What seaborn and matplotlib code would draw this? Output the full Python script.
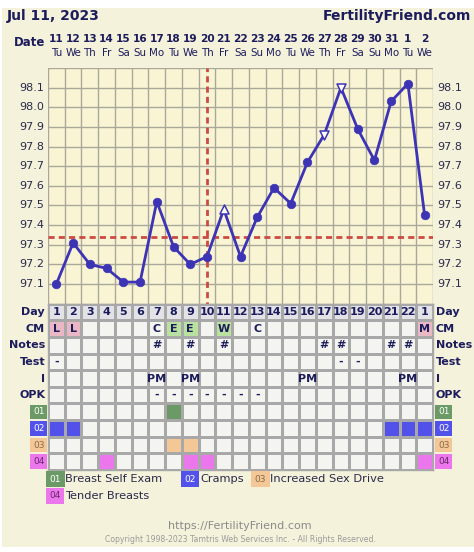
import numpy as np
import pandas as pd
import matplotlib
matplotlib.use("Agg")
import matplotlib.pyplot as plt
import matplotlib.transforms as mtrans
from matplotlib.colors import ListedColormap
from matplotlib.patches import Rectangle
import seaborn as sns

# ---------------- data ----------------
dates = ["11", "12", "13", "14", "15", "16", "17", "18", "19", "20", "21", "22",
         "23", "24", "25", "26", "27", "28", "29", "30", "31", "1", "2"]
weekdays = ["Tu", "We", "Th", "Fr", "Sa", "Su", "Mo", "Tu", "We", "Th", "Fr", "Sa",
            "Su", "Mo", "Tu", "We", "Th", "Fr", "Sa", "Su", "Mo", "Tu", "We"]
cycle_days = ["1", "2", "3", "4", "5", "6", "7", "8", "9", "10", "11", "12",
              "13", "14", "15", "16", "17", "18", "19", "20", "21", "22", "1"]
temps = [97.10, 97.31, 97.20, 97.18, 97.11, 97.11, 97.52, 97.29, 97.20, 97.24,
         97.48, 97.24, 97.44, 97.59, 97.51, 97.72, 97.86, 98.10, 97.89, 97.73,
         98.03, 98.12, 97.45]
# marker kind: 'o' normal, '^' open up, 'v' open down
temp_marker = ["o"] * 10 + ["^"] + ["o"] * 5 + ["v", "v"] + ["o"] * 5
coverline = 97.34
ovulation_day_index = 9          # cycle day 10
temp_ticks = [97.1, 97.2, 97.3, 97.4, 97.5, 97.6, 97.7, 97.8, 97.9, 98.0, 98.1]

cm_values = {0: "L", 1: "L", 6: "C", 7: "E", 8: "E", 10: "W", 12: "C", 22: "M"}
notes_days = [6, 8, 10, 16, 17, 20, 21]
test_days = [0, 17, 18]
intercourse_days = [6, 8, 15, 21]
opk_days = [6, 7, 8, 9, 10, 11, 12]
symptom_codes = ["01", "02", "03", "04"]
symptom_names = ["Breast Self Exam", "Cramps", "Increased Sex Drive", "Tender Breasts"]
symptom_days = {"01": [7], "02": [0, 1, 20, 21, 22], "03": [7, 8], "04": [3, 8, 9, 22]}
row_labels = ["Day", "CM", "Notes", "Test", "I", "OPK"]

# ---------------- styling ----------------
NAVY = "#1c1c5c"
LINE = "#3d33b5"
CREAM = "#f5f2dc"
PLOT_BG = "#f8f4d4"
GRID = "#a9a89a"
RED = "#cc4a44"
sym_colors = {"01": "#6b9a67", "02": "#5252ea", "03": "#f3c796", "04": "#ec76ec"}
cm_colors = {"L": "#e9b8c4", "M": "#e9b8c4", "E": "#b9e2a0", "W": "#b9e2a0"}

W, H = 474, 552
sns.set_theme(style="white")
plt.rcParams["font.family"] = ["DejaVu Sans"]

fig = plt.figure(figsize=(W / 100, H / 100), dpi=100)
fig.patch.set_facecolor("white")
fig.patches.append(Rectangle((2 / W, 1 - 547 / H), 1, (547 - 8) / H,
                             transform=fig.transFigure, facecolor=CREAM,
                             edgecolor="none", zorder=-10))

def fx(x):
    return x / W

def fy(y):
    return 1 - y / H

n = len(dates)
gx0, gx1 = 48, 433
gtop, gbot, tbot = 68, 303.7, 470

# ---------------- temperature chart ----------------
ax = fig.add_axes([fx(gx0), fy(gbot), (gx1 - gx0) / W, (gbot - gtop) / H])
ax.set_facecolor(PLOT_BG)
df = pd.DataFrame({"x": np.arange(n), "temp": temps, "mk": temp_marker})
ax.set_xlim(-0.5, n - 0.5)
ax.set_ylim(97.0, 98.2)
for v in np.arange(n + 1) - 0.5:
    ax.axvline(v, color=GRID, lw=1, zorder=1)
for v in np.arange(97.0, 98.21, 0.1):
    ax.axhline(v, color=GRID, lw=1, zorder=1)
ax.axhline(coverline, color=RED, lw=2, ls=(0, (2.2, 1.5)), zorder=2)
ax.plot([ovulation_day_index, ovulation_day_index], [96.98, 98.2], color=RED, lw=2,
        ls=(0, (2.2, 1.5)), zorder=2, clip_on=False)
sns.lineplot(data=df, x="x", y="temp", color=LINE, lw=2, ax=ax, zorder=3)
d_o = df[df.mk == "o"]
sns.scatterplot(data=d_o, x="x", y="temp", color=LINE, s=38, edgecolor=LINE, ax=ax, zorder=4)
for m in ["^", "v"]:
    d_m = df[df.mk == m]
    sns.scatterplot(data=d_m, x="x", y="temp", marker=m, color="white", s=42,
                    edgecolor=LINE, linewidth=1.1, ax=ax, zorder=4)
ax.set_xticks([])
ax.set_yticks([])
ax.set_xlabel("")
ax.set_ylabel("")
for s in ax.spines.values():
    s.set_visible(False)

blend_y = mtrans.blended_transform_factory(fig.transFigure, ax.transData)
for t in temp_ticks:
    fig.text(fx(44), t, f"{t:.1f}", transform=blend_y, ha="right", va="center",
             fontsize=8, color="#2a2a4a")
    fig.text(fx(437), t, f"{t:.1f}", transform=blend_y, ha="left", va="center",
             fontsize=8, color="#2a2a4a")

# ---------------- table (heatmap) ----------------
nrows = len(row_labels) + len(symptom_codes)
codes = np.zeros((nrows, n))
labels = np.full((nrows, n), "", dtype=object)
codes[0, :] = 1
labels[0, :] = cycle_days
code_of = {"L": 2, "M": 2, "E": 3, "W": 3}
for d, v in cm_values.items():
    labels[1, d] = v
    codes[1, d] = code_of.get(v, 0)
for d in notes_days:
    labels[2, d] = "#"
for d in test_days:
    labels[3, d] = "-"
for d in intercourse_days:
    labels[4, d] = "PM"
for d in opk_days:
    labels[5, d] = "-"
for k, sc in enumerate(symptom_codes):
    for d in symptom_days[sc]:
        codes[6 + k, d] = 4 + k
palette = ["#f4f4f0", "#e3e3e7", cm_colors["L"], cm_colors["E"],
           sym_colors["01"], sym_colors["02"], sym_colors["03"], sym_colors["04"]]
tax = fig.add_axes([fx(gx0), fy(tbot), (gx1 - gx0) / W, (tbot - gbot) / H])
sns.heatmap(codes, cmap=ListedColormap(palette), vmin=-0.5, vmax=7.5, cbar=False,
            linewidths=0.8, linecolor="#a8a8a8", annot=labels, fmt="",
            annot_kws={"fontsize": 8, "fontweight": "bold", "color": NAVY},
            ax=tax)
tax.set_xticks([])
tax.set_yticks([])
for s in ["left", "right", "top", "bottom"]:
    tax.spines[s].set_visible(True)
    tax.spines[s].set_color("#a8a8a8")
    tax.spines[s].set_linewidth(1)

blend_t = mtrans.blended_transform_factory(fig.transFigure, tax.transData)
for r, lab in enumerate(row_labels):
    fig.text(fx(45), r + 0.5, lab, transform=blend_t, ha="right", va="center",
             fontsize=8, fontweight="bold", color=NAVY)
    fig.text(fx(436), r + 0.5, lab, transform=blend_t, ha="left", va="center",
             fontsize=8, fontweight="bold", color=NAVY)
for k, sc in enumerate(symptom_codes):
    r = 6 + k + 0.5
    tc = "white" if sc in ("01", "02") else "#8a6a4a" if sc == "03" else "#6a2a6a"
    for xx in (33, 438):
        fig.text(fx(xx), r, sc, transform=blend_t, ha="left", va="center",
                 fontsize=6.5, color=tc,
                 bbox=dict(boxstyle="square,pad=0.3", fc=sym_colors[sc], ec="none"))

# ---------------- header ----------------
blend_x = mtrans.blended_transform_factory(ax.transData, fig.transFigure)
fig.text(fx(7), fy(16), "Jul 11, 2023", ha="left", va="center", fontsize=10,
         fontweight="bold", color=NAVY)
fig.text(fx(471), fy(16), "FertilityFriend.com", ha="right", va="center", fontsize=10,
         fontweight="bold", color=NAVY)
fig.text(fx(45), fy(42), "Date", ha="right", va="center", fontsize=8.5,
         fontweight="bold", color=NAVY)
for i in range(n):
    fig.text(i, fy(38.5), dates[i], transform=blend_x, ha="center", va="center",
             fontsize=7.6, fontweight="bold", color=NAVY)
    fig.text(i, fy(53.5), weekdays[i], transform=blend_x, ha="center", va="center",
             fontsize=7.4, color=NAVY)

# ---------------- legend ----------------
leg_pos = [(48, 479), (183, 479), (253, 479), (48, 496)]
for (lx, ly), sc, name in zip(leg_pos, symptom_codes, symptom_names):
    tc = "white" if sc in ("01", "02") else "#8a6a4a" if sc == "03" else "#6a2a6a"
    fig.text(fx(lx + 1.5), fy(ly), sc, ha="left", va="center", fontsize=6.5, color=tc,
             bbox=dict(boxstyle="square,pad=0.4", fc=sym_colors[sc], ec="none"))
    fig.text(fx(lx + 17), fy(ly), name, ha="left", va="center", fontsize=8.2,
             color="#2a2a4a")

# ---------------- footer ----------------
fig.text(fx(240), fy(526), "https://FertilityFriend.com", ha="center", va="center",
         fontsize=8, color="#8a8a8a")
fig.text(fx(240), fy(540), "Copyright 1998-2023 Tamtris Web Services Inc. - All Rights Reserved.",
         ha="center", va="center", fontsize=5.6, color="#9a9a9a")

fig.savefig("out.png", dpi=100, facecolor=fig.get_facecolor())
